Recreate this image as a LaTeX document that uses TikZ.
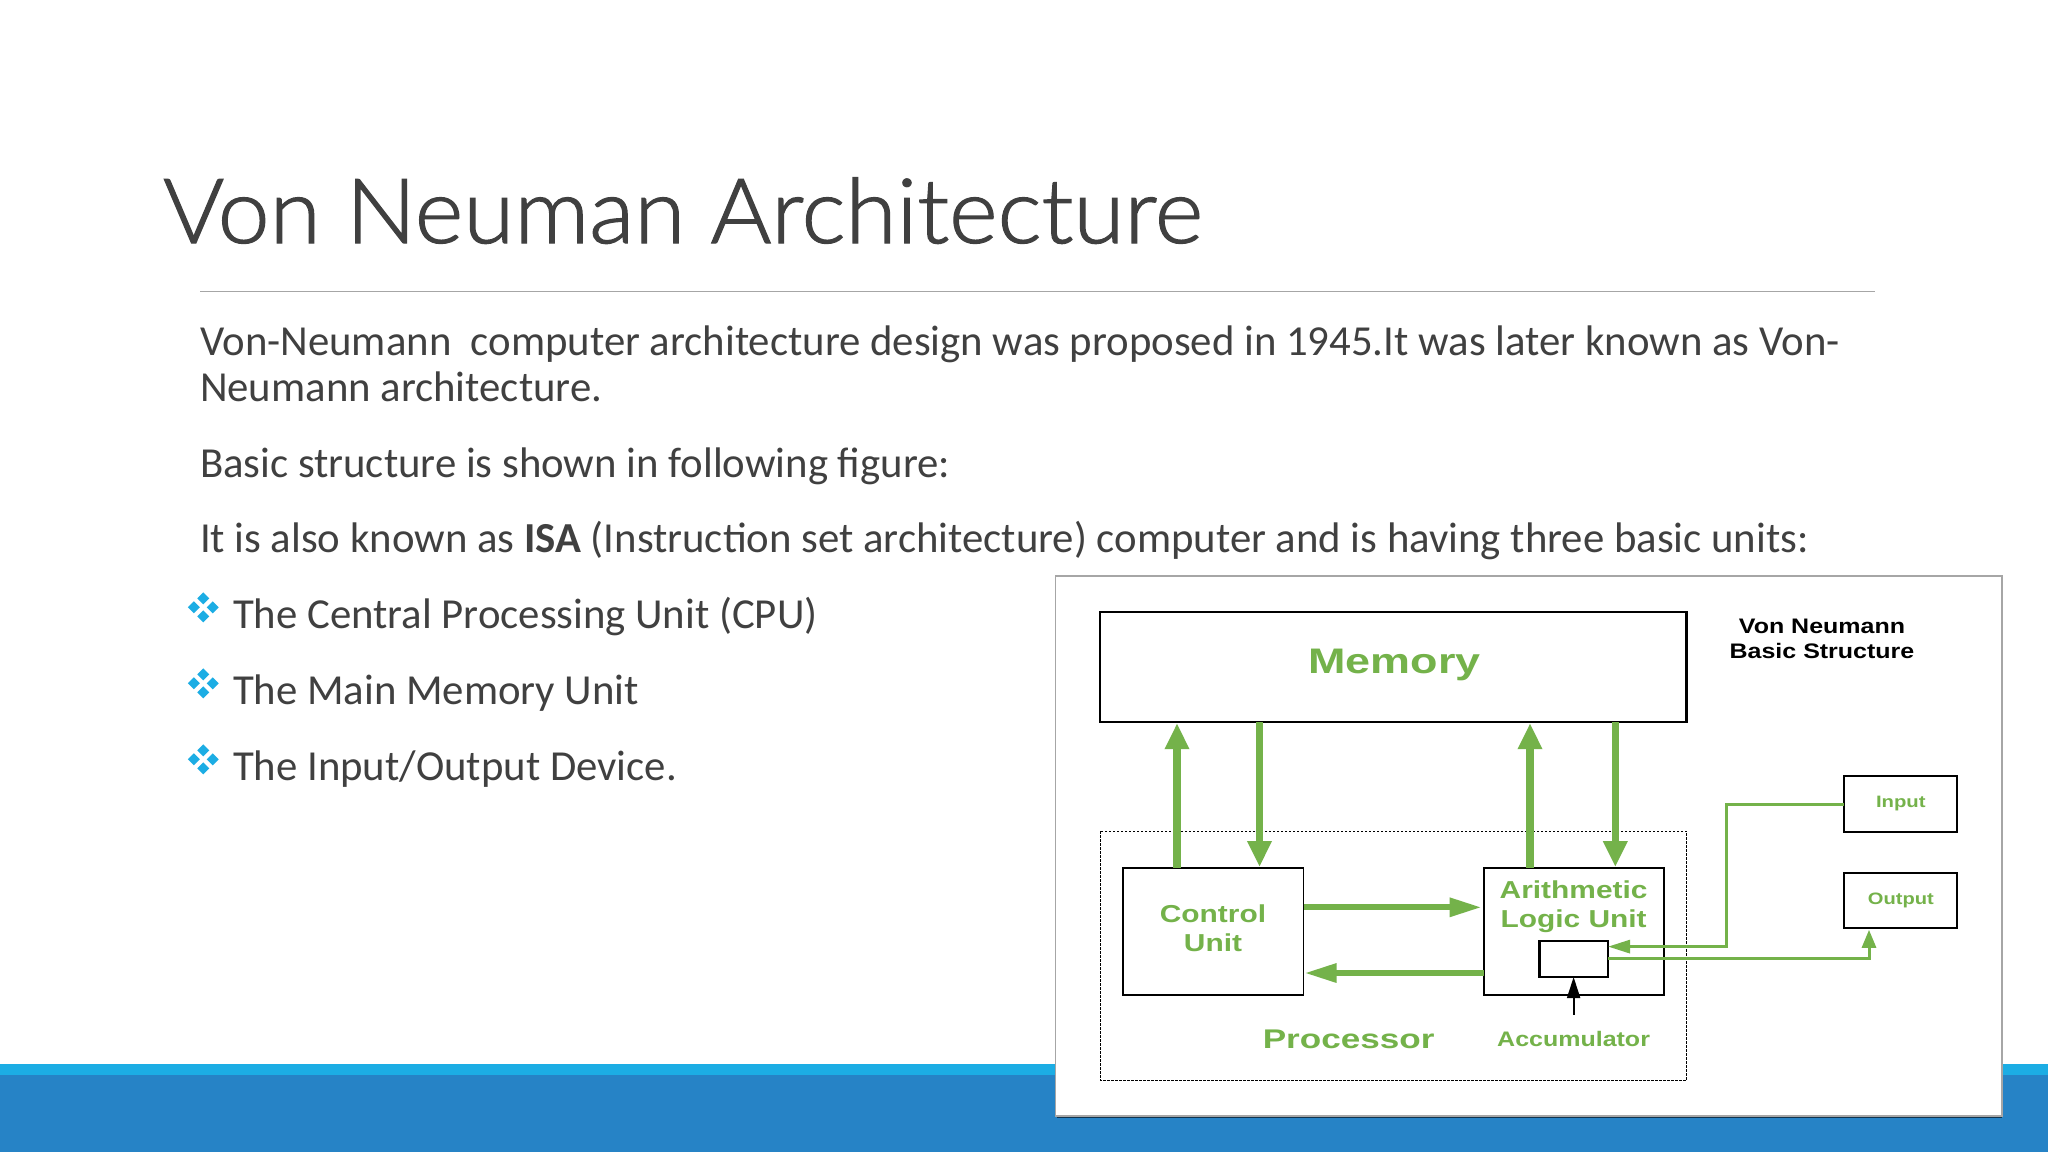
\documentclass[tikz,border=0pt]{standalone}
\usepackage{fontspec}
\usetikzlibrary{arrows.meta}
\setmainfont{Carlito}
\newfontfamily\titlefont[FakeBold=1.4]{Lato Light}
\newfontfamily\lsb{Liberation Sans}
\definecolor{ink}{HTML}{404040}
\definecolor{barlight}{HTML}{1CADE4}
\definecolor{bardark}{HTML}{2683C6}
\definecolor{rulegray}{HTML}{A6A6A6}
\definecolor{grn}{HTML}{74B24A}
\newcommand{\fs}[1]{\fontsize{#1}{#1}\selectfont}
\tikzset{
  bodytext/.style={anchor=base west,inner sep=0pt,outer sep=0pt,text=ink,font=\fontsize{42.77}{46}\selectfont},
  blockbox/.style={draw=black,line width=2.2pt,fill=white,inner sep=0pt,outer sep=0pt,anchor=north west},
  greenlabel/.style={text=grn,inner sep=0pt,align=center,transform shape},
  bigup/.style={draw=grn,line width=7.5pt,-{Triangle[length=26pt,width=23pt]},shorten >=1pt},
  bigside/.style={draw=grn,line width=6pt,-{Triangle[length=32pt,width=18pt]},shorten >=2pt},
  bulletdot/.style={fill=barlight,draw=none},
  pics/bulletmark/.style={code={
    \foreach \dx/\dy in {0/-9,-9.4/0,9.4/0,0/9}{
      \fill[bulletdot] (\dx-6,\dy) -- (\dx,\dy-6) -- (\dx+6,\dy) -- (\dx,\dy+6) -- cycle;
    }
  }}
}
\begin{document}
\begin{tikzpicture}[x=1pt,y=-1pt]
\useasboundingbox (0,0) rectangle (2048,1152);
\fill[white] (0,0) rectangle (2048,1152);
% footer bands
\fill[barlight] (0,1064) rectangle (2048,1075);
\fill[bardark] (0,1075) rectangle (2048,1152);
% title
\node[anchor=base west,inner sep=0pt,text=ink,transform shape,xscale=1.033,font=\titlefont\fontsize{90}{100}\selectfont] (title) at (163,243) {Von Neuman Architecture};
\coordinate (ruleL) at (200,291.5);
\coordinate (ruleR) at (1875,291.5);
\draw[rulegray,line width=1.5pt] (ruleL) -- (ruleR);
% body
\node[bodytext] (l1) at (200,355) {Von-Neumann\ \ computer architecture design was proposed in 1945.It was later known as Von-};
\node[bodytext] (l2) at (200,401) {Neumann architecture.};
\node[bodytext] (l3) at (200,477) {Basic structure is shown in following figure:};
\node[bodytext] (l4) at (200,552.5) {It is also known as \textbf{ISA} (Instruction set architecture) computer and is having three basic units:};
\node[bodytext] (b1) at (233,628.5) {The Central Processing Unit (CPU)};
\node[bodytext] (b2) at (233,704.5) {The Main Memory Unit};
\node[bodytext] (b3) at (233,780.5) {The Input/Output Device.};
\pic at (203.3,607.3) {bulletmark};
\pic at (203.3,683.3) {bulletmark};
\pic at (203.3,759.3) {bulletmark};
% picture frame
\fill[black!60!bardark] (1056.5,1112) rectangle (2002,1117.5);
\draw[rulegray,line width=1.2pt,fill=white] (1055.5,576) rectangle (2002,1116);
% processor dashed
\draw[black,line width=1pt,dash pattern=on 2.5pt off 1.5pt] (1100,831) rectangle (1686.5,1080);
% boxes
\node[blockbox,minimum width=586.5pt,minimum height=110.5pt] (mem) at (1100,611.7) {};
\node[blockbox,minimum width=180.5pt,minimum height=127pt,line width=1.8pt] (ctrl) at (1123,868) {};
\node[blockbox,minimum width=180pt,minimum height=127pt,line width=1.8pt] (alu) at (1483.6,868) {};
\node[blockbox,minimum width=68.5pt,minimum height=36pt] (acc) at (1539.5,941) {};
\node[blockbox,minimum width=113pt,minimum height=55.5pt] (inp) at (1844,776.3) {};
\node[blockbox,minimum width=113pt,minimum height=55pt] (outp) at (1844,873.3) {};
% x and y guides
\coordinate (xa) at (1177,800);
\coordinate (xb) at (1259.5,800);
\coordinate (xc) at (1530,800);
\coordinate (xd) at (1615.3,800);
\coordinate (yf) at (1400,907.3);
\coordinate (yg) at (1400,973);
\coordinate (turnIn) at (1726,804);
\coordinate (yin) at (1726,946.6);
\coordinate (yout) at (1700,958.6);
\coordinate (xout) at (1869,958.6);
\coordinate (acctail) at (1573.6,1014.5);
% connectors
\draw[bigup] (ctrl.north -| xa) -- (mem.south -| xa);
\draw[bigup] (mem.south -| xb) -- (ctrl.north -| xb);
\draw[bigup] (alu.north -| xc) -- (mem.south -| xc);
\draw[bigup] (mem.south -| xd) -- (alu.north -| xd);
\draw[bigside] (ctrl.east |- yf) -- (alu.west |- yf);
\draw[bigside,shorten >=1pt] (alu.west |- yg) -- (ctrl.east |- yg);
\draw[draw=grn,line width=3pt,-{Triangle[length=22pt,width=13pt]}] (inp.west |- turnIn) -- (turnIn) -- (yin) -- (acc.east |- yin);
\draw[draw=grn,line width=3pt,-{Triangle[length=18pt,width=14pt]},shorten >=1.5pt] (acc.east |- yout) -- (xout) -- (outp.south -| xout);
\draw[black,line width=1.8pt,-{Triangle[length=21pt,width=13pt]}] (acctail) -- (acc.south -| acctail);
% labels
\node[greenlabel,xscale=1.265,font=\lsb\bfseries\fs{35.5}] (tm) at (1394.5,664.5) {Memory};
\node[greenlabel,xscale=1.19,font=\lsb\bfseries\fontsize{21}{24.6}\selectfont,text=black] (tv) at (1822,639) {Von Neumann\\Basic Structure};
\node[greenlabel,xscale=1.22,font=\lsb\bfseries\fontsize{24.5}{29}\selectfont] (tc) at (1213,928) {Control\\Unit};
\node[greenlabel,xscale=1.22,font=\lsb\bfseries\fontsize{24.5}{29}\selectfont] (ta) at (1573.6,906.5) {Arithmetic\\Logic Unit};
\node[greenlabel,xscale=1.3,font=\lsb\bfseries\fs{27}] (tp) at (1348.6,1039) {Processor};
\node[greenlabel,xscale=1.19,font=\lsb\bfseries\fs{21}] (tz) at (1573.6,1039.4) {Accumulator};
\node[greenlabel,xscale=1.23,font=\lsb\bfseries\fs{16.5}] (ti) at (1900.8,804) {Input};
\node[greenlabel,xscale=1.22,font=\lsb\bfseries\fs{16.5}] (to) at (1900.8,900) {Output};
\end{tikzpicture}
\end{document}
